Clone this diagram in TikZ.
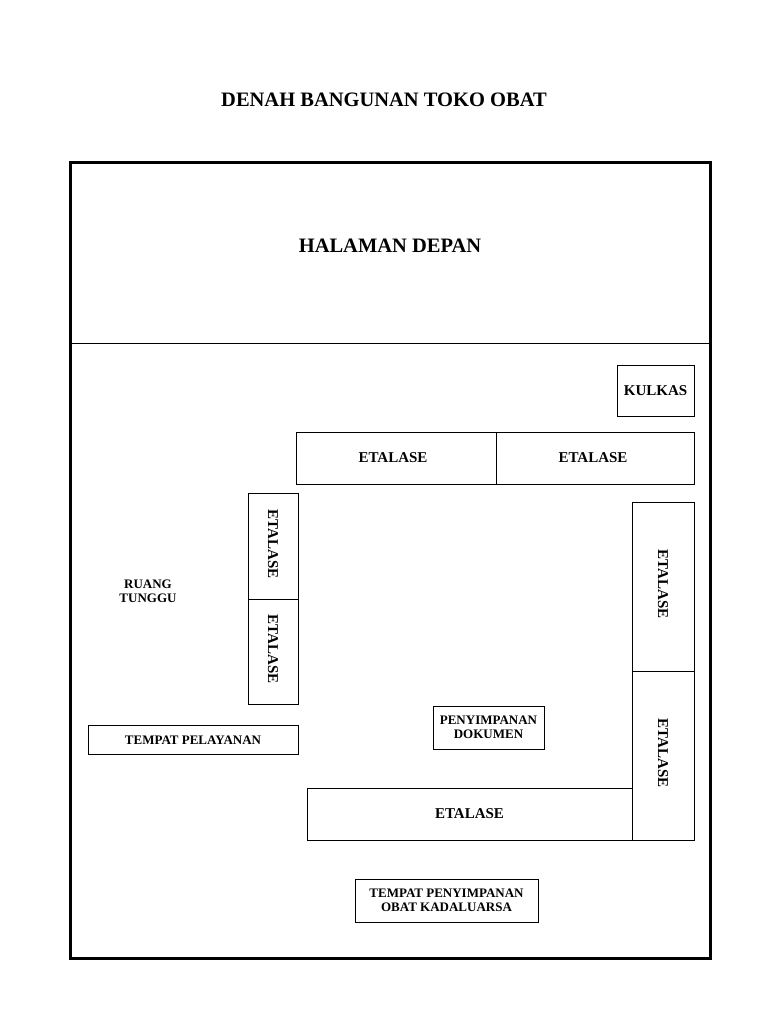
\documentclass[tikz,border=0pt]{standalone}
\usepackage{fontspec}
\setmainfont{Liberation Serif}
\begin{document}
\begin{tikzpicture}[x=1pt,y=-1pt,
  box/.style={draw,line width=0.8pt,inner sep=0pt},
  lbl/.style={font=\bfseries\fontsize{15}{17}\selectfont,align=center},
  sml/.style={font=\bfseries\fontsize{13}{14}\selectfont,align=center}]
\useasboundingbox (0,0) rectangle (768,1024);
\node[font=\bfseries\fontsize{20.5}{24}\selectfont] (title) at (384,100) {DENAH BANGUNAN TOKO OBAT};
\draw[line width=3pt] (70,163) rectangle (710,958);
\coordinate (hl) at (70,343); \coordinate (hr) at (710,343);
\draw[line width=0.8pt] (hl) -- (hr);
\node[font=\bfseries\fontsize{20.5}{24}\selectfont] (hal) at (390,246) {HALAMAN DEPAN};
\draw[box] (617,365) rectangle (694,416); \node[lbl] (kulkas) at (655.5,390.5) {KULKAS};
\draw[box] (296,432) rectangle (496,484); \node[lbl] (e1) at (393,458) {ETALASE};
\draw[box] (496,432) rectangle (694,484); \node[lbl] (e2) at (593,458) {ETALASE};
\draw[box] (248,493) rectangle (298,599); \node[lbl,rotate=-90] (e3) at (273,544) {ETALASE};
\draw[box] (248,599) rectangle (298,704); \node[lbl,rotate=-90] (e4) at (273,649) {ETALASE};
\draw[box] (632,502) rectangle (694,671); \node[lbl,rotate=-90] (e5) at (663,584) {ETALASE};
\draw[box] (632,671) rectangle (694,840); \node[lbl,rotate=-90] (e6) at (663,753) {ETALASE};
\node[sml] (rt) at (148,591) {RUANG\\TUNGGU};
\draw[box] (88,725) rectangle (298,754); \node[sml] (tp) at (193,740) {TEMPAT PELAYANAN};
\draw[box] (433,706) rectangle (544,749); \node[sml] (pd) at (488.5,727.5) {PENYIMPANAN\\DOKUMEN};
\draw[box] (307,788) rectangle (632,840); \node[lbl] (e7) at (469.5,814) {ETALASE};
\draw[box] (355,879) rectangle (538,922); \node[sml] (tk) at (446.5,900.5) {TEMPAT PENYIMPANAN\\OBAT KADALUARSA};
\end{tikzpicture}
\end{document}
